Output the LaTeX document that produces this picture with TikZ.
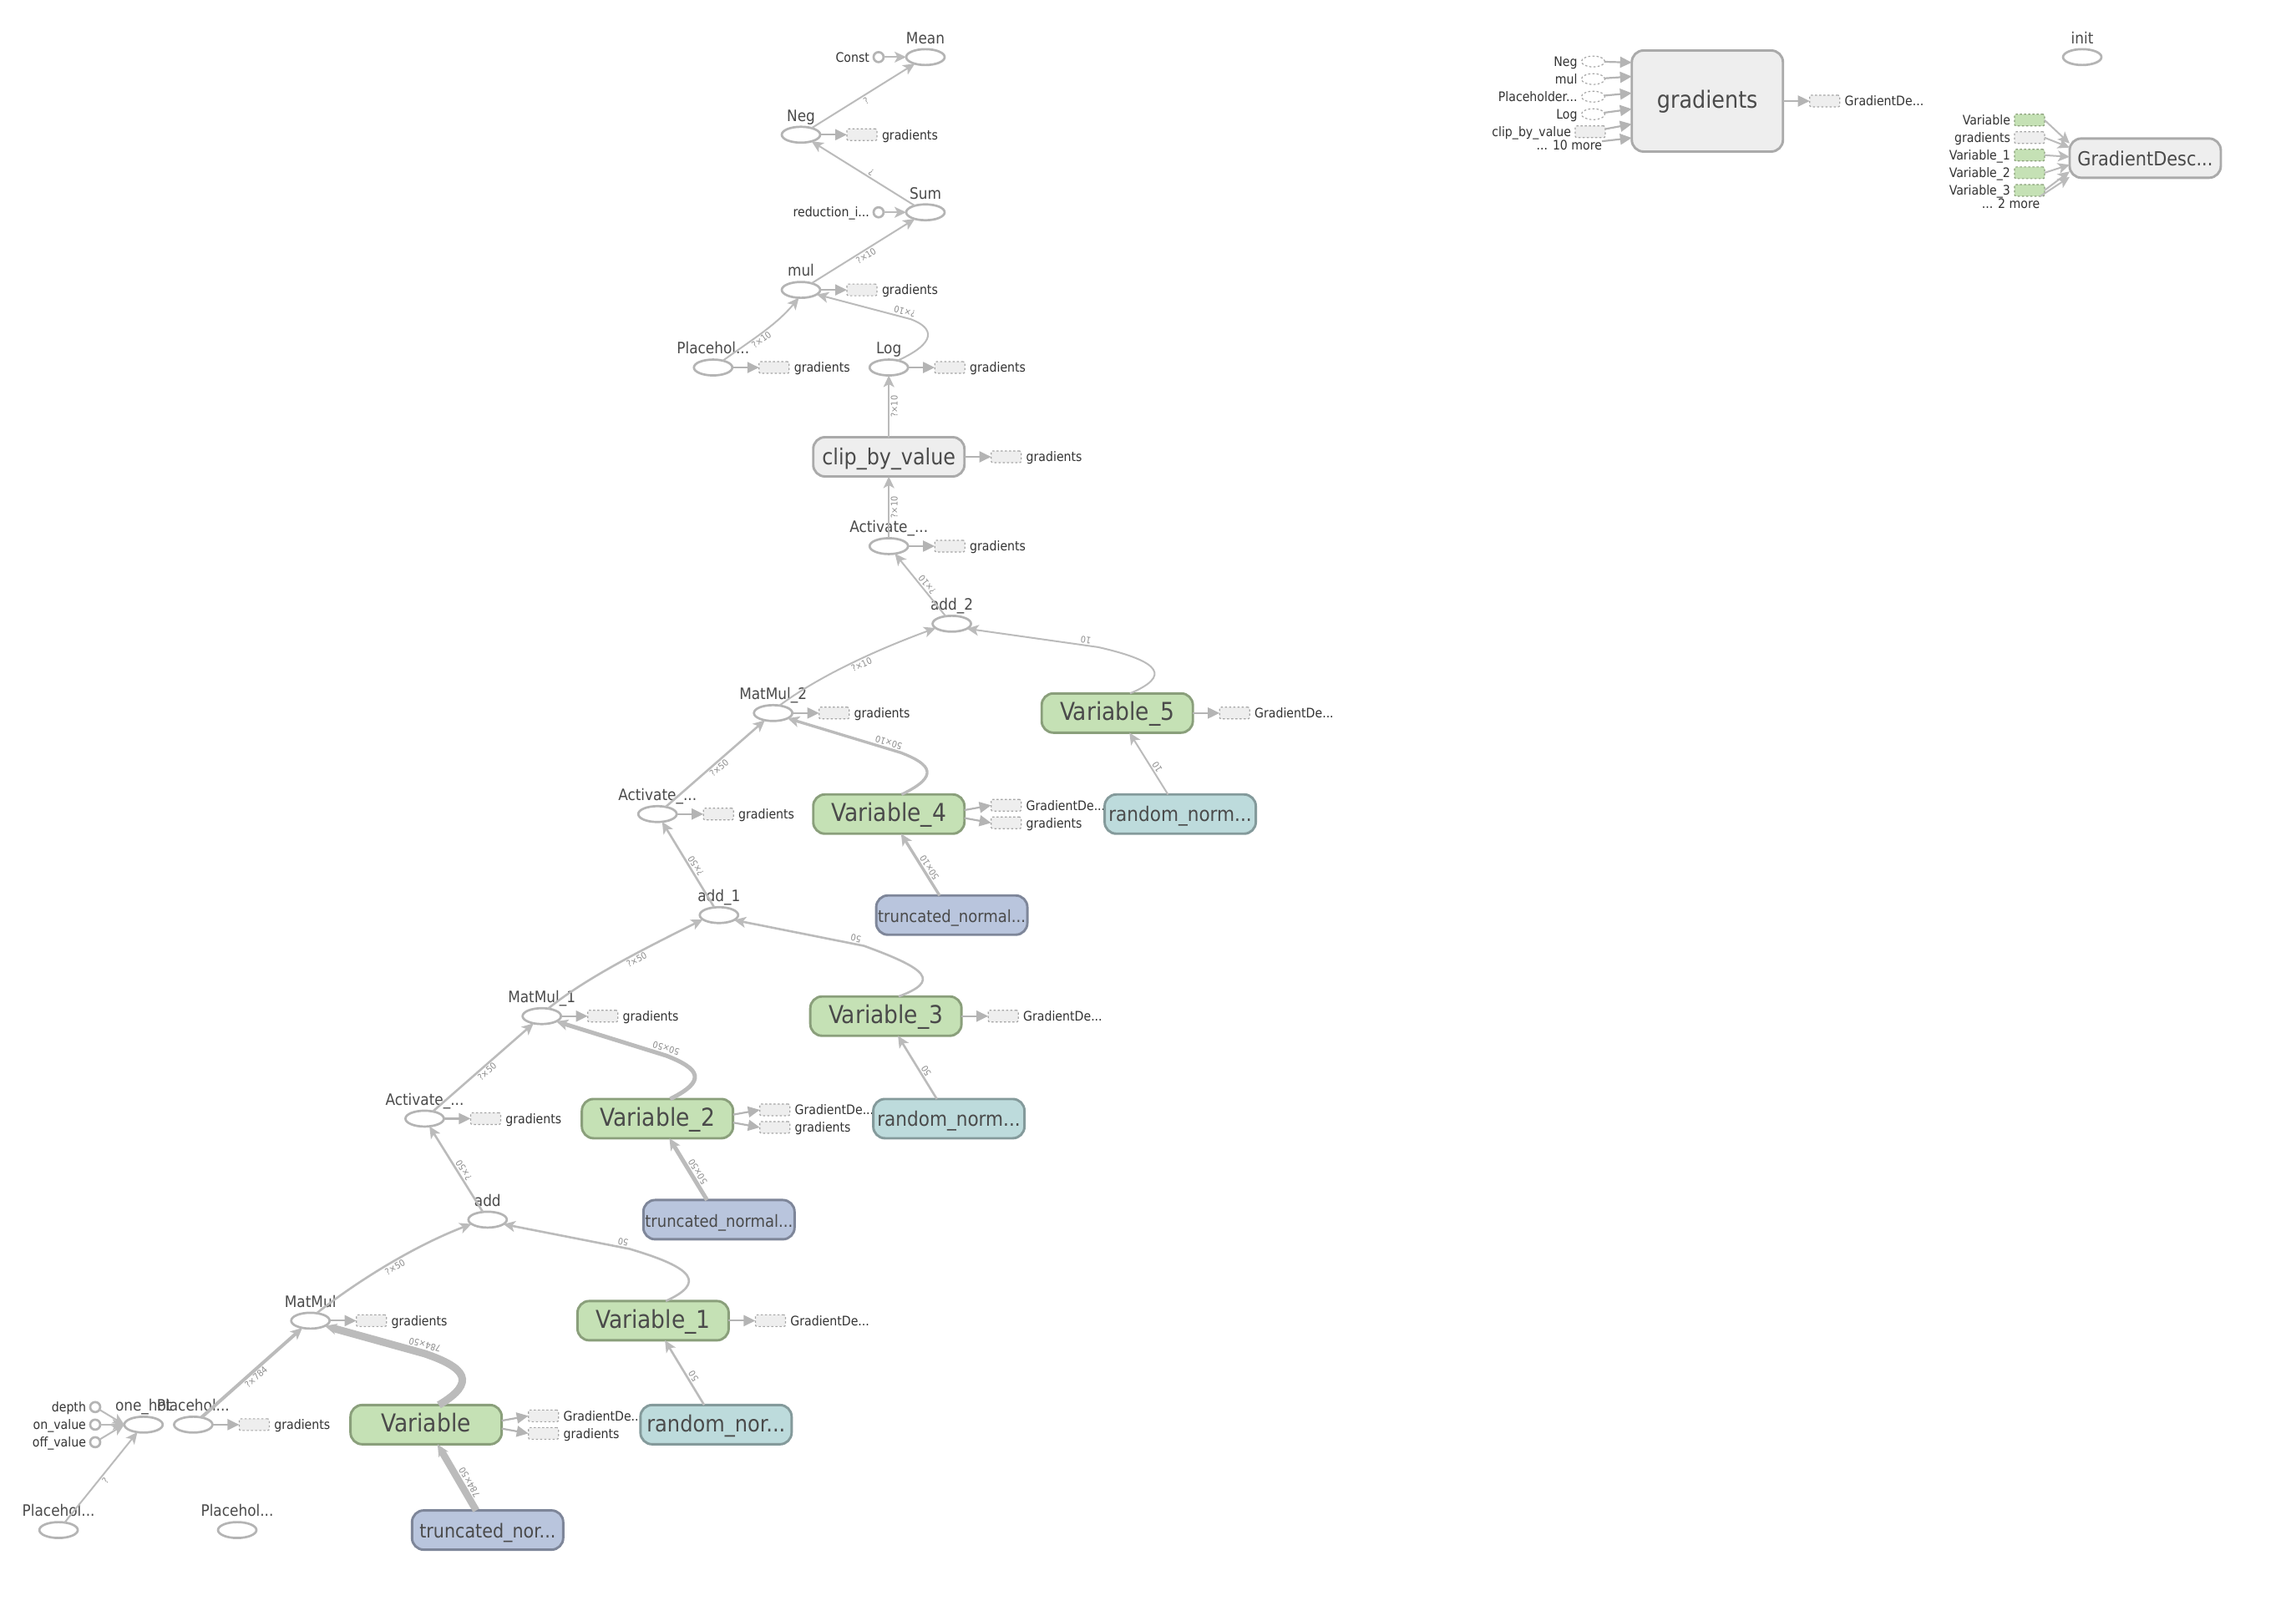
\documentclass[tikz,border=0pt]{standalone}
\usepackage{fontspec}
\setmainfont{DejaVu Sans Condensed}
\usetikzlibrary{arrows.meta, positioning, shapes.geometric}
\definecolor{nodeline}{HTML}{B4B4B4}
\definecolor{edgeline}{HTML}{BBBBBB}
\definecolor{nodetext}{HTML}{4A4A4A}
\definecolor{varfill}{HTML}{C5E1B5}
\definecolor{varline}{HTML}{8A9F7B}
\definecolor{greyfill}{HTML}{EEEEEE}
\definecolor{greyline}{HTML}{AAAAAA}
\definecolor{randfill}{HTML}{BDDBDC}
\definecolor{randline}{HTML}{849A9B}
\definecolor{truncfill}{HTML}{B9C5DD}
\definecolor{truncline}{HTML}{7E8699}
\tikzset{
    opnode/.style={ellipse, draw=nodeline, fill=white, line width=2.7pt, minimum width=46pt, minimum height=19pt, inner sep=0pt, outer sep=0pt},
    oplabel/.style={font=\fontsize{18.8}{20}\selectfont, text=nodetext, inner sep=0pt, text height=14pt, text depth=4pt, label distance=2.5pt},
    constnode/.style={circle, draw=nodeline, fill=white, line width=2.7pt, minimum size=12pt, inner sep=0pt, outer sep=0pt},
    metabox/.style={rectangle, rounded corners=14pt, line width=2.9pt, minimum width=181pt, minimum height=47pt, inner sep=0pt, outer sep=0pt, text=nodetext, text height=24pt, text depth=6pt, font=\fontsize{29.5}{32}\selectfont},
    varbox/.style={metabox, draw=varline, fill=varfill},
    greybox/.style={metabox, draw=greyline, fill=greyfill},
    randbox/.style={metabox, draw=randline, fill=randfill, font=\fontsize{24}{28}\selectfont},
    truncbox/.style={metabox, draw=truncline, fill=truncfill, font=\fontsize{20}{24}\selectfont},
    auxbox/.style={rectangle, rounded corners=2pt, draw=black!35, dash pattern=on 2.5pt off 2.5pt, fill=greyfill, line width=1.2pt, minimum width=36pt, minimum height=14pt, inner sep=0pt, outer sep=0pt},
    auxvar/.style={auxbox, draw=varline, fill=varfill},
    auxring/.style={ellipse, draw=black!35, dash pattern=on 2.5pt off 2.5pt, fill=white, line width=1.2pt, minimum width=28pt, minimum height=13pt, inner sep=0pt, outer sep=0pt},
    sidetext/.style={font=\fontsize{15.7}{17}\selectfont, text=black!80, inner sep=0pt, outer sep=0pt, text height=14pt, text depth=2.5pt},
    edge/.style={draw=edgeline, line width=#1, -{Stealth[length=14pt, width=13pt, inset=3.5pt]}},
    edge/.default=2pt,
    elabel/.style={font=\fontsize{10.8}{12}\selectfont, text=black!45, sloped, allow upside down, below=1.5pt, inner sep=0pt},
    auxedge/.style={draw=nodeline, line width=2.2pt, -{Stealth[length=14pt, width=13pt, inset=0pt]}},
}
\begin{document}
\begin{tikzpicture}[x=1.7532pt, y=-1.7532pt]
    \useasboundingbox (0,0) rectangle (1568,1107.1);

    % loss part
    \node[opnode, label={[oplabel]above:Mean}] (mean) at (632,39) {};
    \node[constnode] (const) at (600,39) {};
    \node[sidetext, left=5pt of const] (consttext) {Const};
    \node[opnode, label={[oplabel]above:Neg}] (neg) at (547,92) {};
    \node[auxbox, right=32pt of neg] (negaux) {};
    \node[sidetext, right=6pt of negaux] (negtext) {gradients};
    \node[opnode, label={[oplabel]above:Sum}] (sum) at (632,145) {};
    \node[constnode] (redidx) at (600,145) {};
    \node[sidetext, left=5pt of redidx] (redidxtext) {reduction\_i...};
    \node[opnode, label={[oplabel]above:mul}] (mul) at (547,198) {};
    \node[auxbox, right=32pt of mul] (mulaux) {};
    \node[sidetext, right=6pt of mulaux] (multext) {gradients};
    \node[opnode, label={[oplabel]above:Placehol...}] (phy) at (487,251) {};
    \node[auxbox, right=32pt of phy] (phyaux) {};
    \node[sidetext, right=6pt of phyaux] (phytext) {gradients};
    \node[opnode, label={[oplabel]above:Log}] (log) at (607,251) {};
    \node[auxbox, right=32pt of log] (logaux) {};
    \node[sidetext, right=6pt of logaux] (logtext) {gradients};
    \node[greybox, font=\fontsize{26.5}{30}\selectfont] (clip) at (607,312) {clip\_by\_value};
    \node[auxbox, right=32pt of clip] (clipaux) {};
    \node[sidetext, right=6pt of clipaux] (cliptext) {gradients};

    % layer 3
    \node[opnode, label={[oplabel]above:Activate\_...}] (act3) at (607,373) {};
    \node[auxbox, right=32pt of act3] (act3aux) {};
    \node[sidetext, right=6pt of act3aux] (act3text) {gradients};
    \node[opnode, label={[oplabel]above:add\_2}] (add2) at (650,426) {};
    \node[opnode, label={[oplabel]above:MatMul\_2}] (mm2) at (528,487) {};
    \node[auxbox, right=32pt of mm2] (mm2aux) {};
    \node[sidetext, right=6pt of mm2aux] (mm2text) {gradients};
    \node[varbox] (var5) at (763,487) {Variable\_5};
    \node[auxbox, right=32pt of var5] (var5aux) {};
    \node[sidetext, right=6pt of var5aux] (var5text) {GradientDe...};
    \node[varbox] (var4) at (607,556) {Variable\_4};
    \node[auxbox, right=32pt of var4, yshift=10.5pt] (var4aux) {};
    \node[sidetext, right=6pt of var4aux] (var4text) {GradientDe...};
    \node[auxbox, right=32pt of var4, yshift=-10.5pt] (var4grad) {};
    \node[sidetext, right=6pt of var4grad] (var4gtext) {gradients};
    \node[randbox] (rand3) at (806,556) {random\_norm...};
    \node[truncbox] (trunc2) at (650,625) {truncated\_normal...};

    % layer 2
    \node[opnode, label={[oplabel]above:Activate\_...}] (act2) at (449,556) {};
    \node[auxbox, right=32pt of act2] (act2aux) {};
    \node[sidetext, right=6pt of act2aux] (act2text) {gradients};
    \node[opnode, label={[oplabel]above:add\_1}] (add1) at (491,625) {};
    \node[opnode, label={[oplabel]above:MatMul\_1}] (mm1) at (370,694) {};
    \node[auxbox, right=32pt of mm1] (mm1aux) {};
    \node[sidetext, right=6pt of mm1aux] (mm1text) {gradients};
    \node[varbox] (var3) at (605,694) {Variable\_3};
    \node[auxbox, right=32pt of var3] (var3aux) {};
    \node[sidetext, right=6pt of var3aux] (var3text) {GradientDe...};
    \node[varbox] (var2) at (449,764) {Variable\_2};
    \node[auxbox, right=32pt of var2, yshift=10.5pt] (var2aux) {};
    \node[sidetext, right=6pt of var2aux] (var2text) {GradientDe...};
    \node[auxbox, right=32pt of var2, yshift=-10.5pt] (var2grad) {};
    \node[sidetext, right=6pt of var2grad] (var2gtext) {gradients};
    \node[randbox] (rand2) at (648,764) {random\_norm...};
    \node[truncbox] (trunc1) at (491,833) {truncated\_normal...};

    % layer 1
    \node[opnode, label={[oplabel]above:Activate\_...}] (act1) at (290,764) {};
    \node[auxbox, right=32pt of act1] (act1aux) {};
    \node[sidetext, right=6pt of act1aux] (act1text) {gradients};
    \node[opnode, label={[oplabel]above:add}] (add) at (333,833) {};
    \node[opnode, label={[oplabel]above:MatMul}] (mm) at (212,902) {};
    \node[auxbox, right=32pt of mm] (mmaux) {};
    \node[sidetext, right=6pt of mmaux] (mmtext) {gradients};
    \node[varbox] (var1) at (446,902) {Variable\_1};
    \node[auxbox, right=32pt of var1] (var1aux) {};
    \node[sidetext, right=6pt of var1aux] (var1text) {GradientDe...};
    \node[varbox] (var) at (291,973) {Variable};
    \node[auxbox, right=32pt of var, yshift=10.5pt] (varaux) {};
    \node[sidetext, right=6pt of varaux] (vartext) {GradientDe...};
    \node[auxbox, right=32pt of var, yshift=-10.5pt] (vargrad) {};
    \node[sidetext, right=6pt of vargrad] (vargtext) {gradients};
    \node[randbox, font=\fontsize{26.8}{30}\selectfont] (rand1) at (489,973) {random\_nor...};
    \node[truncbox, font=\fontsize{23}{28}\selectfont] (trunc0) at (333,1045) {truncated\_nor...};

    % inputs
    \node[opnode, label={[oplabel]above:one\_hot}] (onehot) at (98,973) {};
    \node[constnode] (depth) at (65,961) {};
    \node[sidetext, left=5pt of depth] (depthtext) {depth};
    \node[constnode] (onval) at (65,973) {};
    \node[sidetext, left=5pt of onval] (onvaltext) {on\_value};
    \node[constnode] (offval) at (65,985) {};
    \node[sidetext, left=5pt of offval] (offvaltext) {off\_value};
    \node[opnode, label={[oplabel]above:Placehol...}] (phx) at (132,973) {};
    \node[auxbox, right=32pt of phx] (phxaux) {};
    \node[sidetext, right=6pt of phxaux] (phxtext) {gradients};
    \node[opnode, label={[oplabel]above:Placehol...}] (phlabel) at (40,1045) {};
    \node[opnode, label={[oplabel]above:Placehol...}] (phkeep) at (162,1045) {};

    % gradients and train op
    \node[greybox, minimum height=121pt, font=\fontsize{28.3}{32}\selectfont] (grads) at (1166,69) {gradients};
    \node[auxbox, right=32pt of grads] (gradsaux) {};
    \node[sidetext, right=6pt of gradsaux] (gradstext) {GradientDe...};
    \node[auxring] (inneg) at (1088,42) {};
    \node[sidetext, left=5pt of inneg] (innegtext) {Neg};
    \node[auxring] (inmul) at (1088,54) {};
    \node[sidetext, left=5pt of inmul] (inmultext) {mul};
    \node[auxring] (inph) at (1088,66) {};
    \node[sidetext, left=5pt of inph] (inphtext) {Placeholder...};
    \node[auxring] (inlog) at (1088,78) {};
    \node[sidetext, left=5pt of inlog] (inlogtext) {Log};
    \node[auxbox] (inclip) at (1086,90) {};
    \node[sidetext, left=5pt of inclip] (incliptext) {clip\_by\_value};
    \node[sidetext, anchor=east] (inmore) at (1094,99) {... 10 more};
    \node[opnode, label={[oplabel]above:init}] (init) at (1422,39) {};
    \node[greybox, font=\fontsize{23.2}{28}\selectfont] (gdesc) at (1465,108) {GradientDesc...};
    \node[auxvar] (invar) at (1386,82) {};
    \node[sidetext, left=5pt of invar] (invartext) {Variable};
    \node[auxbox] (ingrad) at (1386,94) {};
    \node[sidetext, left=5pt of ingrad] (ingradtext) {gradients};
    \node[auxvar] (invara) at (1386,106) {};
    \node[sidetext, left=5pt of invara] (invaratext) {Variable\_1};
    \node[auxvar] (invarb) at (1386,118) {};
    \node[sidetext, left=5pt of invarb] (invarbtext) {Variable\_2};
    \node[auxvar] (invarc) at (1386,130) {};
    \node[sidetext, left=5pt of invarc] (invarctext) {Variable\_3};
    \node[sidetext, anchor=east] (gdmore) at (1393,139) {... 2 more};

    % main edges
    \draw[edge] (const) -- (mean);
    \draw[edge] (neg) -- node[elabel, pos=.5] (e1) {?} (mean);
    \draw[edge] (redidx) -- (sum);
    \draw[edge] (sum) -- node[elabel, pos=.45] (e2) {?} (neg);
    \draw[edge] (mul) -- node[elabel, pos=.5] (e3) {?×10} (sum);
    \draw[edge] (phy.35) .. controls (515,231) and (530,222) .. node[elabel, pos=.42] (e4) {?×10} (mul.-105);
    \draw[edge] (log.38) .. controls (640,234) and (638,224) .. (622,218) -- node[elabel, pos=.08] (e5) {?×10} (mul.-16);
    \draw[edge] (clip) -- node[elabel, pos=.5] (e6) {?×10} (log);
    \draw[edge] (act3) -- node[elabel, pos=.5] (e7) {?×10} (clip);
    \draw[edge] (add2) -- node[elabel, pos=.45] (e8) {?×10} (act3);
    \draw[edge] (mm2.50) .. controls (555,465) and (590,447) .. node[elabel, pos=.6] (e9) {?×10} (add2.-165);
    \draw[edge] (var5.57) .. controls (799,462) and (794,452) .. (750,442) -- node[elabel, pos=.1] (e10) {10} (add2.-18);
    \draw[edge] (rand3) -- node[elabel, pos=.4] (e11) {10} (var5);
    \draw[edge=3.4pt] (var4.57) .. controls (642,530) and (636,522) .. (615,514) -- node[elabel, pos=.12] (e12) {50×10} (mm2.-20);
    \draw[edge=3.4pt] (trunc2) -- node[elabel, pos=.4] (e13) {50×10} (var4);
    \draw[edge=2.6pt] (act2) -- node[elabel, pos=.5] (e14) {?×50} (mm2);
    \draw[edge=2.6pt] (add1) -- node[elabel, pos=.45] (e15) {?×50} (act2);
    \draw[edge=2.6pt] (mm1.50) .. controls (400,668) and (440,648) .. node[elabel, pos=.6] (e16) {?×50} (add1.-165);
    \draw[edge=2.6pt] (var3.57) .. controls (642,670) and (634,662) .. (590,646) -- node[elabel, pos=.07] (e17) {50} (add1.-18);
    \draw[edge=2.6pt] (rand2) -- node[elabel, pos=.4] (e18) {50} (var3);
    \draw[edge=5pt] (var2.57) .. controls (483,738) and (478,730) .. (455,721) -- node[elabel, pos=.02] (e19) {50×50} (mm1.-20);
    \draw[edge=5pt] (trunc1) -- node[elabel, pos=.4] (e20) {50×50} (var2);
    \draw[edge=2.6pt] (act1) -- node[elabel, pos=.5] (e21) {?×50} (mm1);
    \draw[edge=2.6pt] (add) -- node[elabel, pos=.45] (e22) {?×50} (act1);
    \draw[edge=2.6pt] (mm.50) .. controls (240,878) and (280,852) .. node[elabel, pos=.55] (e23) {?×50} (add.-165);
    \draw[edge=2.6pt] (var1.57) .. controls (482,876) and (474,866) .. (430,853) -- node[elabel, pos=.06] (e24) {50} (add.-16);
    \draw[edge=2.6pt] (rand1) -- node[elabel, pos=.4] (e25) {50} (var1);
    \draw[edge=4pt] (phx) -- node[elabel, pos=.5] (e26) {?×784} (mm);
    \draw[edge=9pt] (var.57) .. controls (326,944) and (318,934) .. (290,924.5) -- node[elabel, pos=.02] (e27) {784×50} (mm.-20);
    \draw[edge=8.5pt] (trunc0) -- node[elabel, pos=.36] (e28) {784×50} (var);
    \draw[edge] (depth) -- (onehot.west);
    \draw[edge] (onval) -- (onehot.west);
    \draw[edge] (offval) -- (onehot.west);
    \draw[edge] (phlabel) -- node[elabel, pos=.5] (e29) {?} (onehot);

    % edges to the gradients group
    \draw[auxedge] (neg) -- (negaux);
    \draw[auxedge] (mul) -- (mulaux);
    \draw[auxedge] (phy) -- (phyaux);
    \draw[auxedge] (log) -- (logaux);
    \draw[auxedge] (clip) -- (clipaux);
    \draw[auxedge] (act3) -- (act3aux);
    \draw[auxedge] (mm2) -- (mm2aux);
    \draw[auxedge] (var5) -- (var5aux);
    \draw[auxedge] (act2) -- (act2aux);
    \draw[auxedge] (var4.3) -- (var4aux.west);
    \draw[auxedge] (var4.-3) -- (var4grad.west);
    \draw[auxedge] (mm1) -- (mm1aux);
    \draw[auxedge] (var3) -- (var3aux);
    \draw[auxedge] (act1) -- (act1aux);
    \draw[auxedge] (var2.3) -- (var2aux.west);
    \draw[auxedge] (var2.-3) -- (var2grad.west);
    \draw[auxedge] (mm) -- (mmaux);
    \draw[auxedge] (var1) -- (var1aux);
    \draw[auxedge] (phx) -- (phxaux);
    \draw[auxedge] (var.3) -- (varaux.west);
    \draw[auxedge] (var.-3) -- (vargrad.west);

    \draw[auxedge] (grads) -- (gradsaux);
    \draw[auxedge] (inneg) -- (grads.153);
    \draw[auxedge] (inmul) -- (grads.162);
    \draw[auxedge] (inph) -- (grads.174);
    \draw[auxedge] (inlog) -- (grads.-174.5);
    \draw[auxedge] (inclip) -- (grads.-163.5);
    \draw[auxedge] (inmore) -- (grads.-154);
    \draw[edge] (invar.east) -- (gdesc.169.6);
    \draw[edge] (ingrad.east) -- (gdesc.172);
    \draw[edge] (invara.east) -- (gdesc.179);
    \draw[edge] (invarb.east) -- (gdesc.-175);
    \draw[edge] (invarc.east) -- (gdesc.-170);
    \draw[edge] (gdmore.north east) -- (gdesc.-166);
\end{tikzpicture}
\end{document}
